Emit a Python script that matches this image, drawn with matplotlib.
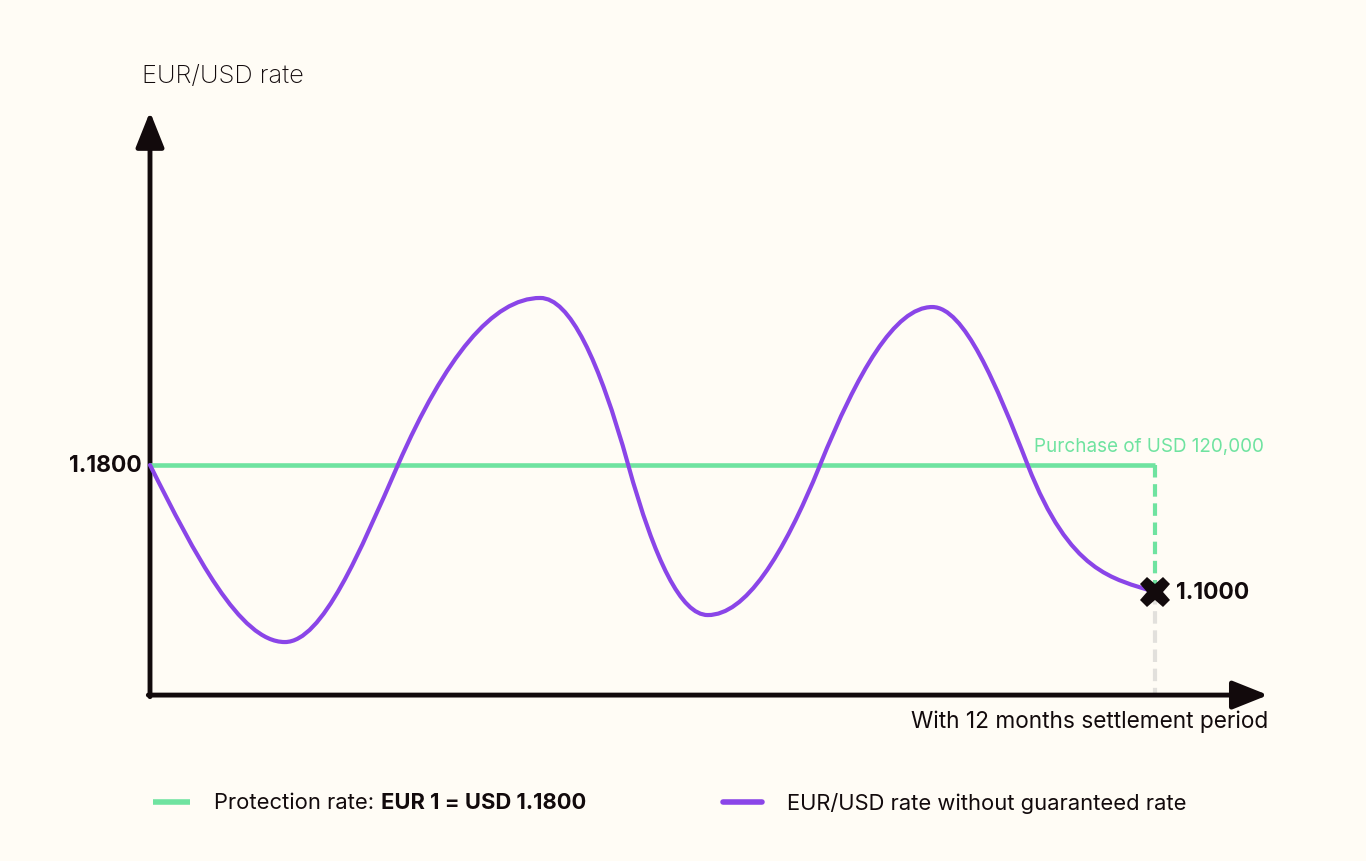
import numpy as np
import matplotlib.pyplot as plt
from matplotlib.path import Path
from matplotlib.patches import PathPatch

# colours
bg = '#FFFCF5'
ink = '#120A0C'
green = '#6FE3A0'
purple = '#8A45E8'
grey = '#E2E0DC'

# data (months vs EUR/USD rate)
months = [0, 1.61, 2.96, 4.66, 5.71, 6.66, 8.0, 9.34, 10.48, 12.0]
rates = [1.18, 1.0685, 1.18, 1.2852, 1.18, 1.0855, 1.18, 1.2795, 1.18, 1.10]
slopes = [-0.105, 0.0, 0.12, 0.0, -0.19, 0.0, 0.13, 0.0, -0.135, -0.017]  # tangent, rate per month
protection_rate = 1.18
final_rate = 1.10
settle_month = 12

plt.rcParams['font.family'] = ['Inter', 'DejaVu Sans']

fig = plt.figure(figsize=(13.66, 8.62), dpi=100, facecolor=bg)
ax = fig.add_axes([0, 0, 1, 1])
ax.set_facecolor(bg)
ax.set_xlim(-1.791, 14.519)
ax.set_ylim(0.9306, 1.4735)
ax.axis('off')

y_base = 1.0351
x_base = -0.02

# axes arrows
arrow = dict(arrowstyle='-|>,head_length=1.55,head_width=0.62', lw=3.5,
             color=ink, mutation_scale=14, shrinkA=0, shrinkB=0)
ax.annotate('', xy=(0, 1.4025), xytext=(0, y_base - 0.001), arrowprops=arrow)
ax.annotate('', xy=(13.35, y_base), xytext=(x_base, y_base), arrowprops=arrow)

# protection line and dashed drop
ax.plot([0, settle_month], [protection_rate, protection_rate], color=green, lw=3.3,
        solid_capstyle='butt', zorder=3)
ax.plot([settle_month, settle_month], [protection_rate, final_rate], color=green, lw=3,
        ls=(0, (3, 1.6)), zorder=2)
ax.plot([settle_month, settle_month], [final_rate, y_base], color=grey, lw=3,
        ls=(0, (3, 1.6)), zorder=1)

# smooth rate curve as cubic bezier segments
verts = [(months[0], rates[0])]
codes = [Path.MOVETO]
for i in range(len(months) - 1):
    dx = (months[i + 1] - months[i]) / 3
    verts += [(months[i] + dx, rates[i] + dx * slopes[i]),
              (months[i + 1] - dx, rates[i + 1] - dx * slopes[i + 1]),
              (months[i + 1], rates[i + 1])]
    codes += [Path.CURVE4] * 3
ax.add_patch(PathPatch(Path(verts, codes), facecolor='none', edgecolor=purple, lw=3,
                       capstyle='round', zorder=4))

ax.plot(settle_month, final_rate, marker='X', color=ink, markersize=22, mew=0, zorder=5)

# labels
ax.text(-0.1, protection_rate, '1.1800', ha='right', va='center', fontsize=16.5,
        fontweight='bold', color=ink)
ax.text(12.25, final_rate, '1.1000', ha='left', va='center', fontsize=16.5,
        fontweight='bold', color=ink)
ax.text(13.3, protection_rate + 0.006, 'Purchase of USD 120,000', ha='right', va='bottom',
        fontsize=13.6, color=green)
ax.text(-0.1, 1.4255, 'EUR/USD rate', ha='left', va='center', fontsize=18.4,
        fontweight='light', color=ink)
ax.text(13.35, 1.0187, 'With 12 months settlement period', ha='right', va='center',
        fontsize=16.3, color=ink)

# legend
ly = 0.9677
ax.plot([0.03, 0.48], [ly, ly], color=green, lw=4, solid_capstyle='butt')
t1 = ax.text(0.77, ly, 'Protection rate: ', ha='left', va='center', fontsize=15.8, color=ink)
fig.canvas.draw()
bb = t1.get_window_extent()
x_next = ax.transData.inverted().transform((bb.x1, bb.y0))[0]
ax.text(x_next, ly, 'EUR 1 = USD 1.1800', ha='left', va='center', fontsize=15.8,
        fontweight='bold', color=ink)
ax.plot([6.84, 7.31], [ly, ly], color=purple, lw=4, solid_capstyle='round')
ax.text(7.6, ly, 'EUR/USD rate without guaranteed rate', ha='left', va='center',
        fontsize=15.8, color=ink)

fig.savefig('out.png', dpi=100, facecolor=bg)
